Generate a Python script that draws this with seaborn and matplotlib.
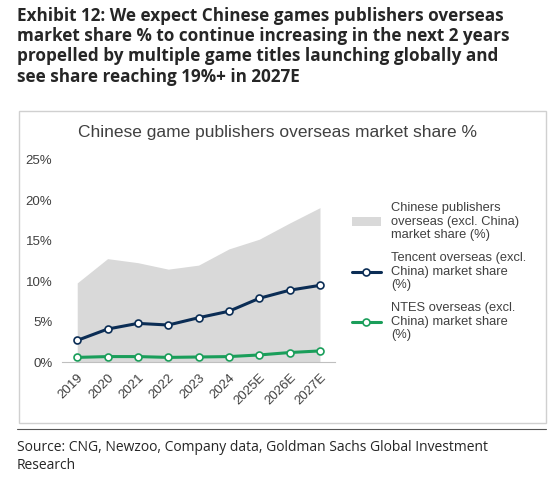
import matplotlib
matplotlib.use('Agg')
import matplotlib.pyplot as plt
import seaborn as sns
import pandas as pd
from matplotlib.patches import Rectangle

years = ['2019', '2020', '2021', '2022', '2023', '2024', '2025E', '2026E', '2027E']
chinese_share = [9.8, 12.8, 12.3, 11.5, 12.0, 14.0, 15.2, 17.2, 19.1]
tencent_share = [2.7, 4.1, 4.8, 4.6, 5.5, 6.3, 7.9, 8.9, 9.5]
ntes_share = [0.6, 0.7, 0.7, 0.6, 0.65, 0.7, 0.9, 1.2, 1.4]

sns.set_style('white')
plt.rcParams['font.family'] = ['Liberation Sans', 'DejaVu Sans']

df = pd.DataFrame({'x': range(len(years)), 'area': chinese_share,
                   'tencent': tencent_share, 'ntes': ntes_share})

fig = plt.figure(figsize=(5.54, 4.83), dpi=100)
fig.text(0.03, 0.985, 'Exhibit 12: We expect Chinese games publishers overseas\n'
         'market share % to continue increasing in the next 2 years\n'
         'propelled by multiple game titles launching globally and\n'
         'see share reaching 19%+ in 2027E',
         fontsize=12.3, fontweight='bold', va='top', ha='left', linespacing=1.15,
         family=['Open Sans', 'DejaVu Sans'])
fig.patches.append(Rectangle((0.035, 0.125), 0.95, 0.645, transform=fig.transFigure,
                             fill=False, edgecolor='#d0d0d0', lw=1))
fig.add_artist(plt.Line2D([0.03, 0.985], [0.112, 0.112], color='#555555', lw=0.8))
fig.text(0.03, 0.088, 'Source: CNG, Newzoo, Company data, Goldman Sachs Global Investment\nResearch',
         fontsize=10, va='top', ha='left', family=['Open Sans', 'DejaVu Sans'])
fig.text(0.5, 0.725, 'Chinese game publishers overseas market share %', fontsize=12.5,
         ha='center', va='center', color='#404040')

ax = fig.add_axes([0.112, 0.25, 0.493, 0.419])
ax.fill_between(df['x'], df['area'], color='#d9d9d9', lw=0,
                label='Chinese publishers\noverseas (excl. China)\nmarket share (%)')
sns.lineplot(data=df, x='x', y='tencent', ax=ax, color='#0b2d55', lw=2.2, marker='o',
             markerfacecolor='white', markeredgecolor='#0b2d55', markersize=5, mew=1.2,
             label='Tencent overseas (excl.\nChina) market share\n(%)')
sns.lineplot(data=df, x='x', y='ntes', ax=ax, color='#1a9e5a', lw=2.2, marker='o',
             markerfacecolor='white', markeredgecolor='#1a9e5a', markersize=5, mew=1.2,
             label='NTES overseas (excl.\nChina) market share\n(%)')
ax.set_xlim(-0.5, len(years) - 0.5)
ax.set_ylim(0, 25)
ax.set_yticks(range(0, 26, 5))
ax.set_yticklabels([f'{v}%' for v in range(0, 26, 5)], fontsize=9.5, color='#404040')
ax.set_xticks(df['x'])
ax.set_xticklabels(years, rotation=45, ha='right', rotation_mode='anchor', fontsize=9.5, color='#404040')
ax.set_xlabel('')
ax.set_ylabel('')
for s in ['top', 'right', 'left']:
    ax.spines[s].set_visible(False)
ax.spines['bottom'].set_color('#bfbfbf')
ax.legend(loc='upper left', bbox_to_anchor=(1.02, 0.85), frameon=False, fontsize=9.3,
          handlelength=2.2, labelspacing=0.8, labelcolor='#404040')
fig.savefig('out.png', dpi=100)
